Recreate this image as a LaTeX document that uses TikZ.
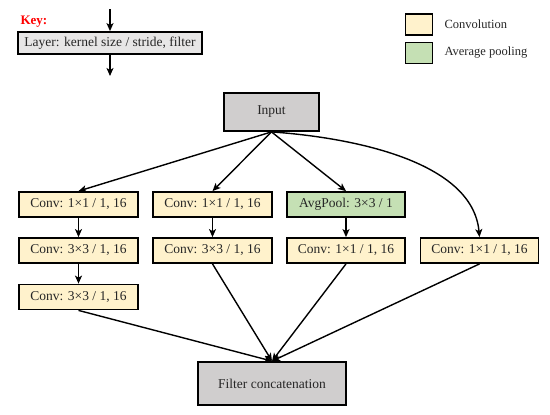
\documentclass[tikz,border=0pt]{standalone}
\usepackage{fontspec}
\setmainfont{Liberation Serif}
\usetikzlibrary{arrows.meta}
\definecolor{convfill}{HTML}{FFF2CC}
\definecolor{poolfill}{HTML}{C5E0B4}
\definecolor{grayfill}{HTML}{D0CECE}
\definecolor{keyfill}{HTML}{E7E6E6}
\definecolor{txt}{HTML}{262626}
\definecolor{keyred}{HTML}{FF0000}
\begin{document}
\begin{tikzpicture}[x=1pt,y=-1pt,
  font=\fontsize{13.5}{16}\selectfont,
  box/.style={draw=black,line width=1.8pt,text=txt,inner sep=0pt,anchor=center},
  conv/.style={box,fill=convfill,minimum width=119pt,minimum height=25pt},
  pool/.style={box,fill=poolfill,minimum width=119pt,minimum height=25pt},
  gbox/.style={box,fill=grayfill},
  swatch/.style={draw=black,line width=1.8pt,minimum width=27pt,minimum height=21pt,inner sep=0pt},
  arr/.style={line width=1.4pt,-{Stealth[length=8pt,width=7pt,inset=2pt]}}
]
\useasboundingbox (0,0) rectangle (550,415);

% key
\node[text=keyred,font=\fontsize{13}{15}\bfseries\selectfont,anchor=west] (keylbl) at (17,22) {Key:};
\node[box,fill=keyfill,minimum width=184pt,minimum height=22pt] (keybox) at (110,43) {Layer: kernel size / stride, filter};
\coordinate (keytop) at (110,9);
\coordinate (keybot) at (110,76);
\draw[arr] (keytop) -- (keybox.north);
\draw[arr] (keybox.south) -- (keybot);

% legend
\node[swatch,fill=convfill] (sw1) at (419,24.5) {};
\node[swatch,fill=poolfill] (sw2) at (419,53) {};
\node[anchor=west,text=txt,font=\fontsize{12.5}{15}\selectfont] (lg1) at (441,24.5) {Convolution};
\node[anchor=west,text=txt,font=\fontsize{12.5}{15}\selectfont] (lg2) at (441,53) {Average pooling};

% main
\node[gbox,minimum width=95pt,minimum height=38pt] (input) at (271.5,112) {Input};

\node[conv] (a1) at (78.5,204.5) {Conv: 1×1 / 1, 16};
\node[conv] (a2) at (78.5,250.5) {Conv: 3×3 / 1, 16};
\node[conv] (a3) at (78.5,297) {Conv: 3×3 / 1, 16};

\node[conv] (b1) at (212.5,204.5) {Conv: 1×1 / 1, 16};
\node[conv] (b2) at (212.5,250.5) {Conv: 3×3 / 1, 16};

\node[pool,minimum width=118pt] (c1) at (346,204.5) {AvgPool: 3×3 / 1};
\node[conv,minimum width=118pt] (c2) at (346,250.5) {Conv: 1×1 / 1, 16};

\node[conv,minimum width=118pt] (d1) at (479.5,250.5) {Conv: 1×1 / 1, 16};

\node[gbox,minimum width=148pt,minimum height=43pt] (concat) at (272,383.5) {Filter concatenation};

\draw[arr] (input.south) -- (a1.north);
\draw[arr] (input.south) -- (b1.north);
\draw[arr] (input.south) -- (c1.north);
\draw[arr] (input.south) to[out=-4,in=95,looseness=0.85] (d1.north);

\draw[arr] (a1) -- (a2);
\draw[arr] (a2) -- (a3);
\draw[arr] (b1) -- (b2);
\draw[arr] (c1) -- (c2);

\draw[arr] (a3.south) -- (concat.north);
\draw[arr] (b2.south) -- (concat.north);
\draw[arr] (c2.south) -- (concat.north);
\draw[arr] (d1.south) -- (concat.north);
\end{tikzpicture}
\end{document}
